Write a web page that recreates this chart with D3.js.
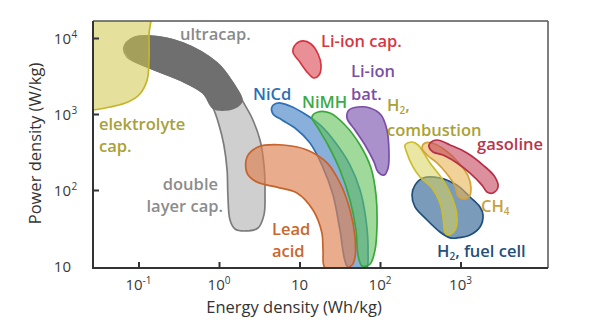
<!DOCTYPE html>
<html><head><meta charset="utf-8">
<script src="https://cdn.jsdelivr.net/npm/d3@7"></script>
<style>
html,body{margin:0;padding:0;background:#fff;}
svg{display:block;}
text{font-family:"Open Sans",sans-serif;}
</style></head>
<body>
<svg id="c" width="589" height="332"></svg>
<script>
// ---- data: [energy density Wh/kg, power density W/kg] outline vertices ----
const xTickValues = [0.1, 1, 10, 100, 1000];
const xTickLabels = [["10","-1"],["10","0"],["10",""],["10","2"],["10","3"]];
const yTickValues = [10, 100, 1000, 10000];
const yTickLabels = [["10",""],["10","2"],["10","3"],["10","4"]];

const doubleLayerCap = [[0.0854,10000],[0.139,10600],[0.357,8600],[0.944,4700],[1.49,2560],[1.93,1530],[2.57,886],[3.23,455],[3.62,213],[3.73,86],[3.62,47],[3.05,31.6],[2.10,28.9],[1.58,30.7],[1.37,40.3],[1.29,86],[1.26,183],[1.15,391],[1.0,717],[0.842,1200],[0.633,1890],[0.328,2800],[0.139,4030],[0.072,5620],[0.066,7620]];
const ultraCap = [[0.068,7620],[0.0854,10000],[0.139,10600],[0.357,8600],[0.944,4700],[1.49,2560],[1.93,1530],[1.72,1275],[1.19,1129],[0.842,1200],[0.633,1890],[0.328,2800],[0.139,4030],[0.0784,5460]];
const elektrolyteCap = [[0.0188,23000],[0.135,23000],[0.135,11000],[0.135,5140],[0.128,2800],[0.104,1833],[0.0741,1438],[0.0443,1236],[0.0272,1129],[0.0188,1095]];
const liIonCap = [[9.05,8340],[11.05,9140],[13.9,8340],[17.0,6160],[18.5,4410],[17.5,3260],[15.1,2980],[12.75,3460],[10.1,4830],[8.30,6540]];
const niCd = [[4.55,1236],[5.41,1396],[7.62,1275],[11.7,1000],[18.0,717],[27.6,428],[42.4,213],[56.5,100],[67.0,40.3],[71.0,16.2],[67.0,8.8],[48.9,8.6],[38.9,10],[31.8,29.8],[26.1,86],[19.0,213],[13.5,415],[8.79,654],[6.06,834],[4.69,1000]];
const niMH = [[14.3,914],[17.0,1063],[23.9,1031],[36.7,717],[56.5,391],[77.3,195],[89.2,86],[91.8,34.6],[86.7,16.2],[75.1,10.6],[59.8,10],[53.3,13.9],[50.3,29.8],[42.4,73.9],[31.8,183],[22.6,391],[17.0,654]];
const liIonBat = [[41.2,1129],[53.3,1236],[75.1,1200],[103,970],[122,616],[129,336],[126,195],[112,157],[94.4,173],[84.2,234],[65.1,391],[48.9,616],[38.9,886]];
const leadAcid = [[2.23,272],[3.05,368],[6.24,391],[12.4,336],[22.0,227],[31.8,124],[42.4,54.6],[48.9,24.1],[48.9,13.1],[44.9,10.3],[31.8,8.9],[20.7,9.4],[19.6,16.2],[19.0,27.2],[14.7,54.6],[9.31,91.4],[5.25,109],[2.96,127],[2.23,167]];
const h2FuelCell = [[272,116],[342,144],[556,144],[905,116],[1313,80.9],[1746,59.8],[1905,46.9],[1746,32.6],[1313,25.6],[905,23.4],[741,23.4],[556,28.0],[384,40.3],[272,59.8],[250,86]];
const h2Combustion = [[205,391],[250,428],[297,391],[418,227],[606,135],[807,73.9],[905,44.2],[855,29.8],[699,25.6],[642,28.0],[606,44.2],[556,67.4],[443,106],[314,148],[250,213],[216,307]];
const ch4 = [[333,357],[362,415],[443,415],[642,336],[931,234],[1240,153],[1350,106],[1276,80.9],[1074,76.2],[931,83.4],[855,113],[680,162],[511,227],[384,289]];
const gasoline = [[406,368],[418,415],[511,455],[741,391],[1205,307],[1905,213],[2684,148],[2924,109],[2534,91.4],[2134,94.1],[1849,116],[1313,167],[905,227],[606,289],[455,316]];

// ---- layout ----
const frame = {left:93, top:21, right:548, bottom:268};
const svg = d3.select("#c");
const x = d3.scaleLog().domain([0.1,1000]).range([138.5,460.5]);
const y = d3.scaleLog().domain([10,10000]).range([266,38]);

svg.append("defs").append("clipPath").attr("id","clip")
  .append("rect").attr("x",frame.left).attr("y",frame.top)
  .attr("width",frame.right-frame.left).attr("height",frame.bottom-frame.top);

const line = d3.line().x(d=>x(d[0])).y(d=>y(d[1])).curve(d3.curveCatmullRomClosed.alpha(0.5));
const g = svg.append("g").attr("clip-path","url(#clip)");

const regions = [
  {d:doubleLayerCap, fill:"#cfcfcf", op:1, stroke:"#7c7c7c"},
  {d:ultraCap, fill:"#6f6f6f", op:1, stroke:"#6f6f6f"},
  {d:elektrolyteCap, fill:"#cfc64a", op:0.55, stroke:"#c4b52a"},
  {d:liIonCap, fill:"#e0606a", op:0.7, stroke:"#d63642"},
  {d:niCd, fill:"#4a86c6", op:0.65, stroke:"#2c70b6"},
  {d:niMH, fill:"#5fc258", op:0.6, stroke:"#3ba73c"},
  {d:liIonBat, fill:"#8763b5", op:0.7, stroke:"#7a4da6"},
  {d:leadAcid, fill:"#dd8150", op:0.65, stroke:"#c7622a"},
  {d:h2FuelCell, fill:"#43709c", op:0.7, stroke:"#1f4e7b"},
  {d:h2Combustion, fill:"#d8d25a", op:0.55, stroke:"#cbbd2e"},
  {d:ch4, fill:"#e8b455", op:0.6, stroke:"#d5a23a"},
  {d:gasoline, fill:"#c4445c", op:0.6, stroke:"#b72f46"}
];
regions.forEach(r=>{
  g.append("path").attr("d",line(r.d))
    .attr("fill",r.fill).attr("fill-opacity",r.op)
    .attr("stroke",r.stroke).attr("stroke-width",1.7).attr("stroke-linejoin","round");
});

// frame
svg.append("line").attr("x1",frame.left).attr("x2",frame.right).attr("y1",frame.top).attr("y2",frame.top).attr("stroke","#555").attr("stroke-width",1.5);
svg.append("line").attr("x1",frame.right).attr("x2",frame.right).attr("y1",frame.top).attr("y2",frame.bottom).attr("stroke","#555").attr("stroke-width",1.5);
svg.append("line").attr("x1",frame.left).attr("x2",frame.left).attr("y1",frame.top).attr("y2",frame.bottom+1).attr("stroke","#333").attr("stroke-width",2);
svg.append("line").attr("x1",frame.left-1).attr("x2",frame.right).attr("y1",frame.bottom).attr("y2",frame.bottom).attr("stroke","#333").attr("stroke-width",2);

// ticks via axes (inward)
const xAxis = svg.append("g").attr("transform",`translate(0,${frame.bottom})`)
  .call(d3.axisBottom(x).tickValues(xTickValues).tickSize(-6).tickFormat(""));
const yAxis = svg.append("g").attr("transform",`translate(${frame.left},0)`)
  .call(d3.axisLeft(y).tickValues(yTickValues.filter(v=>v>10)).tickSize(-6).tickFormat(""));
[xAxis,yAxis].forEach(a=>{a.select(".domain").remove();a.selectAll(".tick line").attr("stroke","#333").attr("stroke-width",2);});

// tick labels
const lab = svg.append("g").attr("fill","#3a3a3a").style("font-size","15px");
xTickValues.forEach((v,i)=>{
  const t = lab.append("text").attr("x",x(v)).attr("y",290).attr("text-anchor","middle");
  t.append("tspan").text(xTickLabels[i][0]);
  if(xTickLabels[i][1]) t.append("tspan").attr("dy",-6).style("font-size","10px").text(xTickLabels[i][1]);
});
yTickValues.forEach((v,i)=>{
  lab.append("text").attr("x",71).attr("y",y(v)+5.5).attr("text-anchor","end").text(yTickLabels[i][0]);
  if(yTickLabels[i][1]) lab.append("text").attr("x",71.5).attr("y",y(v)-0.5).style("font-size","10px").text(yTickLabels[i][1]);
});

// axis titles
svg.append("text").attr("x",294).attr("y",313).attr("text-anchor","middle").attr("fill","#333").style("font-size","16.5px").text("Energy density (Wh/kg)");
svg.append("text").attr("transform","translate(41,143.5) rotate(-90)").attr("text-anchor","middle").attr("fill","#333").style("font-size","16.5px").text("Power density (W/kg)");

// region labels
const labels = [
  {t:"ultracap.", x:180, y:40, c:"#8a8a8a"},
  {t:"elektrolyte", x:99, y:130, c:"#a7a13a"},
  {t:"cap.", x:99, y:152, c:"#a7a13a"},
  {t:"double", x:218, y:190, c:"#8c8c8c", a:"end"},
  {t:"layer cap.", x:223, y:212, c:"#8c8c8c", a:"end"},
  {t:"NiCd", x:253, y:100, c:"#2b6fb7"},
  {t:"NiMH", x:302, y:108, c:"#3daa48"},
  {t:"Li-ion cap.", x:321, y:47, c:"#d9363f"},
  {t:"Li-ion", x:351, y:77, c:"#7b4fa6"},
  {t:"bat.", x:351, y:100, c:"#7b4fa6"},
  {t:"combustion", x:387, y:136, c:"#a8a23a"},
  {t:"gasoline", x:477, y:150, c:"#b8354d"},
  {t:"Lead", x:272, y:235, c:"#c9672f"},
  {t:"acid", x:272, y:257, c:"#c9672f"}
];
const lg = svg.append("g").style("font-size","16.5px").style("font-weight","600");
labels.forEach(l=>{
  lg.append("text").attr("x",l.x).attr("y",l.y).attr("fill",l.c).attr("text-anchor",l.a||"start").text(l.t);
});
function subLabel(parts, xx, yy, c){
  const t = lg.append("text").attr("x",xx).attr("y",yy).attr("fill",c);
  let shift = 0;
  parts.forEach(p=>{
    const ts = t.append("tspan").text(p.s);
    if(p.sub){ ts.attr("dy",3-shift).style("font-size","10px"); shift=3; }
    else if(shift){ ts.attr("dy",-shift); shift=0; }
  });
}
subLabel([{s:"H"},{s:"2",sub:true},{s:","}], 387, 111, "#a8a23a");
subLabel([{s:"CH"},{s:"4",sub:true}], 481, 212, "#c9a03e");
subLabel([{s:"H"},{s:"2",sub:true},{s:", fuel cell"}], 437, 257, "#234f7a");
</script>
</body></html>
